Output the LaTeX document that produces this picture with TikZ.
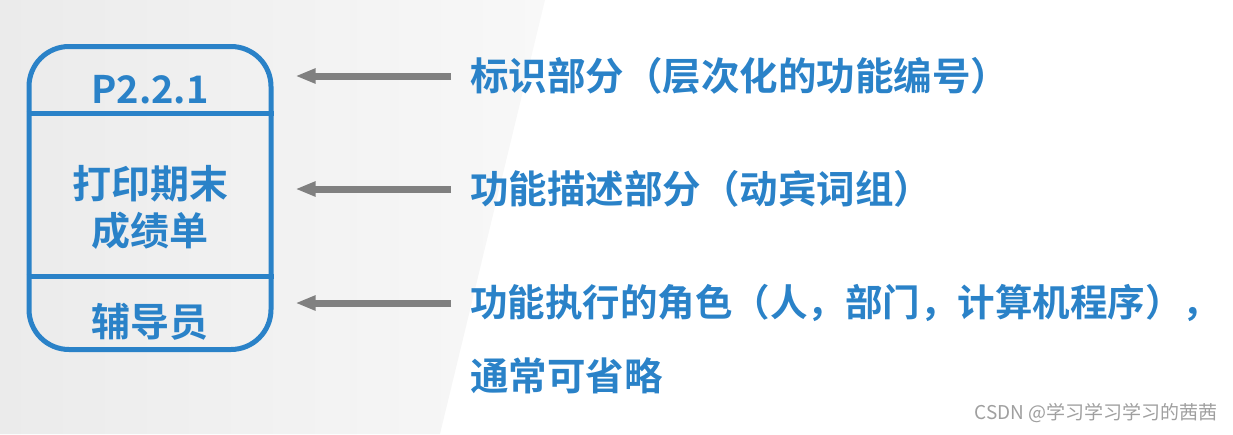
\documentclass[tikz,border=0pt]{standalone}
\usepackage{fontspec}
\usetikzlibrary{arrows.meta}
\newfontfamily\cjk{Noto Sans CJK SC}[BoldFont={Noto Sans CJK SC Bold}]
\definecolor{procblue}{RGB}{42,130,200}
\definecolor{arrowgray}{RGB}{128,128,128}

\begin{document}
\begin{tikzpicture}[x = 1pt, y = -1pt,
    note/.style = {anchor = west, inner sep = 0pt, text = procblue, font = \cjk\bfseries\fontsize{38.5}{38.5}\selectfont},
    inbox/.style = {inner sep = 0pt, text = procblue, align = center, font = \cjk\bfseries\fontsize{39}{47}\selectfont},
    pointer/.style = {draw = arrowgray, line width = 7pt, -{Triangle[length = 20pt, width = 14pt]}, shorten < = 19pt, shorten > = 22pt}]
        \useasboundingbox (0,0) rectangle (1233,434);
        \shade [left color = {rgb,255:red,235;green,235;blue,235}, right color = {rgb,255:red,248;green,248;blue,248}] (0,0) -- (545,0) -- (440,434) -- (0,434) -- cycle;

        \node [draw = procblue, line width = 5pt, rounded corners = 40pt, minimum width = 242pt, minimum height = 303pt] (proc) at (150,198) {};
        \coordinate (cut1) at (0,113);
        \coordinate (cut2) at (0,276);
        \draw [procblue, line width = 5pt] (proc.west |- cut1) -- (proc.east |- cut1);
        \draw [procblue, line width = 5pt] (proc.west |- cut2) -- (proc.east |- cut2);

        \node [inbox, font = \cjk\bfseries\fontsize{38}{38}\selectfont] (pid) at (150,90) {P2.2.1};
        \node [inbox] (pname) at (150,207) {打印期末\\成绩单};
        \node [inbox] (pwho) at (150,322) {辅导员};

        \node [note] (lid) at (470,76) {标识部分（层次化的功能编号）};
        \node [note] (ldesc) at (470,189) {功能描述部分（动宾词组）};
        \node [note, font = \cjk\bfseries\fontsize{37.5}{37.5}\selectfont] (lwho) at (470,303) {功能执行的角色（人，部门，计算机程序），};
        \node [note] (lwho2) at (470,376) {通常可省略};

        \draw [pointer] (lid.west) -- (proc.east |- lid.west);
        \draw [pointer] (ldesc.west) -- (proc.east |- ldesc.west);
        \draw [pointer] (lwho.west) -- (proc.east |- lwho.west);

        \node [anchor = east, inner sep = 0pt, text = gray!75, font = \cjk\fontsize{19}{19}\selectfont] (mark) at (1218,413) {CSDN @学习学习学习的茜茜};
    \end{tikzpicture}
\end{document}
